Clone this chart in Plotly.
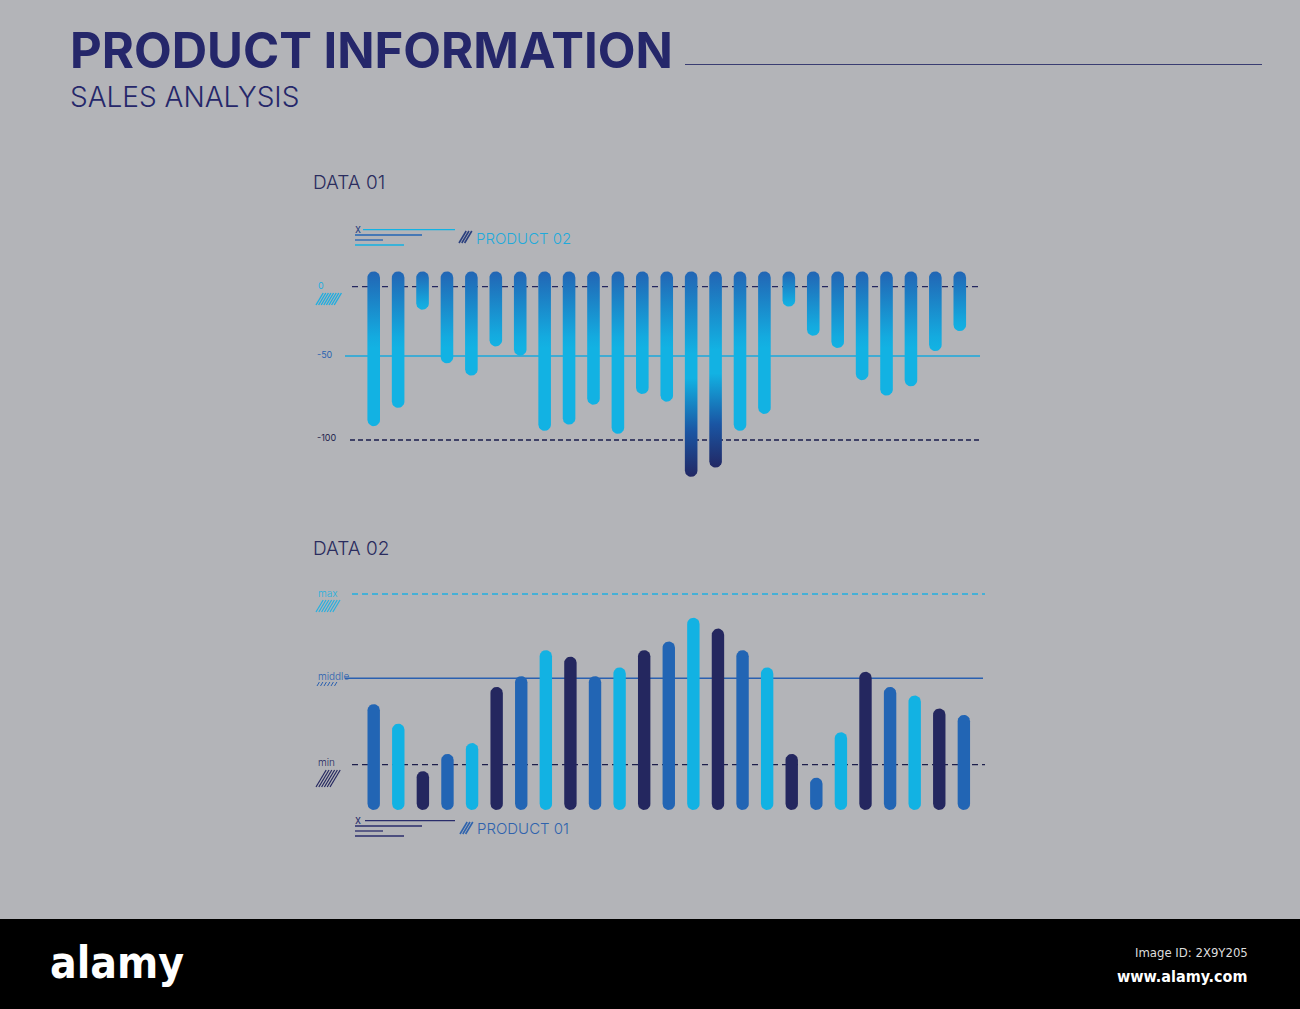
import numpy as np
import plotly.graph_objects as go

# ---------------------------------------------------------------------------
# Product information / sales analysis - two rounded "pill" bar charts
# ---------------------------------------------------------------------------

# DATA 01 - product 02 (negative values, bars hang from the top)
days = list(range(1, 26))
product02 = [-91, -79, -15, -50, -58, -39, -45, -94, -90, -77, -96, -70, -75,
             -124, -118, -94, -83, -13, -32, -40, -61, -71, -65, -42, -29]
product02_top = 10

# DATA 01 scale labels
levels02 = [0, -50, -100]

# DATA 02 - product 01 (positive values, bars stand on the base)
product01 = [49, 40, 18, 26, 31, 57, 62, 74, 71, 62, 66, 74, 78,
             89, 84, 74, 66, 26, 15, 36, 64, 57, 53, 47, 44]

# DATA 02 reference levels
levels01 = {"max": 100, "middle": 61, "min": 21}

BG = "#b3b4b8"
NAVY = "#24275f"
BLUE = "#2265b4"
CYAN = "#12b2e3"
FONT = "Inter"

W, H = 1300, 1009


def px(x):
    return x / W


def py(y):
    return 1 - y / H


def capsule(xc, lo, hi, hw, ry, n=14):
    # rounded bar outline in data units
    xs, ys = [], []
    for a in np.linspace(np.pi, 2 * np.pi, n):
        xs.append(xc + hw * np.cos(a))
        ys.append(lo + ry + ry * np.sin(a))
    for a in np.linspace(0, np.pi, n):
        xs.append(xc + hw * np.cos(a))
        ys.append(hi - ry + ry * np.sin(a))
    xs.append(xs[0])
    ys.append(ys[0])
    return xs, ys


fig = go.Figure()

# ---- chart 1 geometry (pixel calibration)
x1_first, x1_step = 373.7, 24.42
y1_zero, y1_unit = 286.7, 1.533
dom1_x = (300, 1000)
dom1_y = (250, 500)
hw1 = 6.3 / x1_step
ry1 = 6.3 / y1_unit

for i, v in enumerate(product02):
    xs, ys = capsule(i, v, product02_top, hw1, ry1)
    if v < -110:
        grad = dict(type="vertical", start=v, stop=product02_top,
                    colorscale=[[0, "#222864"], [0.22, "#1a55a3"],
                                [0.48, CYAN], [0.6, CYAN], [1, BLUE]])
    else:
        grad = dict(type="vertical", start=max(v, -40), stop=product02_top,
                    colorscale=[[0, CYAN], [0.15, "#14aadf"], [1, BLUE]])
    fig.add_trace(go.Scatter(x=xs, y=ys, fill="toself", mode="lines",
                             line=dict(width=0), fillgradient=grad,
                             hoverinfo="skip", xaxis="x", yaxis="y"))

# ---- chart 2 geometry
x2_first, x2_step = 373.7, 24.59
y2_base, y2_unit = 810, 2.16
dom2_x = (300, 1000)
dom2_y = (560, 850)
hw2 = 6.2 / x2_step
ry2 = 6.2 / y2_unit
cycle = [BLUE, CYAN, NAVY]

for i, v in enumerate(product01):
    xs, ys = capsule(i, 0, v, hw2, ry2)
    fig.add_trace(go.Scatter(x=xs, y=ys, fill="toself", mode="lines",
                             line=dict(width=0), fillcolor=cycle[i % 3],
                             hoverinfo="skip", xaxis="x2", yaxis="y2"))

fig.update_layout(
    width=W, height=H,
    margin=dict(l=0, r=0, t=0, b=0),
    paper_bgcolor=BG, plot_bgcolor="rgba(0,0,0,0)",
    showlegend=False,
    xaxis=dict(domain=[px(dom1_x[0]), px(dom1_x[1])],
               range=[(dom1_x[0] - x1_first) / x1_step, (dom1_x[1] - x1_first) / x1_step],
               visible=False, fixedrange=True),
    yaxis=dict(domain=[py(dom1_y[1]), py(dom1_y[0])],
               range=[(y1_zero - dom1_y[1]) / y1_unit, (y1_zero - dom1_y[0]) / y1_unit],
               visible=False, fixedrange=True),
    xaxis2=dict(domain=[px(dom2_x[0]), px(dom2_x[1])], anchor="y2",
                range=[(dom2_x[0] - x2_first) / x2_step, (dom2_x[1] - x2_first) / x2_step],
                visible=False, fixedrange=True),
    yaxis2=dict(domain=[py(dom2_y[1]), py(dom2_y[0])], anchor="x2",
                range=[(y2_base - dom2_y[1]) / y2_unit, (y2_base - dom2_y[0]) / y2_unit],
                visible=False, fixedrange=True),
)

shapes = []

# reference lines chart 1 (the -50 rule sits a little high in the original artwork)
shapes.append(dict(type="line", xref="paper", yref="y", layer="below",
                   x0=px(352), x1=px(980), y0=levels02[0], y1=levels02[0],
                   line=dict(color=NAVY, dash="6px,4px", width=1.2)))
shapes.append(dict(type="line", xref="paper", yref="paper", layer="below",
                   x0=px(345), x1=px(980), y0=py(356), y1=py(356),
                   line=dict(color="#1aa8dc", width=1.3)))
shapes.append(dict(type="line", xref="paper", yref="y", layer="below",
                   x0=px(350), x1=px(980), y0=levels02[2], y1=levels02[2],
                   line=dict(color="#1b1d4c", dash="5px,3px", width=1.4)))

# reference lines chart 2
ref2_style = {"max": ("#22aedf", "6px,4px", 1.3, 352, 985),
              "middle": ("#2a60b0", "solid", 1.4, 345, 983),
              "min": ("#1d1f4c", "6px,4px", 1.3, 352, 985)}
for k, lv in levels01.items():
    c, d, w, x0, x1 = ref2_style[k]
    shapes.append(dict(type="line", xref="paper", yref="y2", layer="below",
                       x0=px(x0), x1=px(x1), y0=lv, y1=lv,
                       line=dict(color=c, dash=d, width=w)))


def hline(x0, x1, y, color, width=1):
    shapes.append(dict(type="line", xref="paper", yref="paper",
                       x0=px(x0), x1=px(x1), y0=py(y), y1=py(y),
                       line=dict(color=color, width=width)))


def hatch(x0, y0, x1, y1, color, step=3.2, width=1):
    h = y1 - y0
    x = x0
    while x + h * 0.6 <= x1 + 0.1:
        shapes.append(dict(type="line", xref="paper", yref="paper",
                           x0=px(x), y0=py(y1), x1=px(x + h * 0.6), y1=py(y0),
                           line=dict(color=color, width=width)))
        x += step


# title rule
hline(685, 1262, 64.5, "#3a3d72", 1)

# legend decoration chart 1
hline(363, 455, 229.7, CYAN, 1.3)
hline(355, 422, 235, BLUE, 1.3)
hline(355, 383, 240, BLUE, 1.3)
hline(355, 404, 245, CYAN, 1.3)
hatch(459, 231, 473, 243, "#2a3f7e", step=2.8, width=1.6)

# legend decoration chart 2
hline(365, 455, 820.7, "#2a2d6b", 1.3)
hline(355, 422, 826, "#2a2d6b", 1.3)
hline(355, 383, 831, "#2a2d6b", 1.3)
hline(355, 404, 836, "#2a2d6b", 1.3)
hatch(460, 822, 474, 834, "#2f63ad", step=2.8, width=1.6)

# hatch boxes beside the level labels
hatch(316, 293, 342, 305, "#1eaee0", step=2.6, width=1.4)
hatch(316, 600, 342, 612, "#27b0df", step=2.8, width=1.2)
hatch(317, 682, 340, 686, "#2a60b0", step=3.5, width=1)
hatch(316, 770, 342, 787, "#25285f", step=2.8, width=1.2)

# stock photo footer band
shapes.append(dict(type="rect", xref="paper", yref="paper", layer="above",
                   x0=0, x1=1, y0=0, y1=py(919), fillcolor="black", line=dict(width=0)))

fig.update_layout(shapes=shapes)


def label(x, y, text, size, color, weight="normal", anchor="left", family=FONT):
    fig.add_annotation(x=px(x), y=py(y), xref="paper", yref="paper", text=text,
                       showarrow=False, xanchor=anchor, yanchor="middle",
                       font=dict(family=family, size=size, color=color, weight=weight))


label(68, 51, "PRODUCT INFORMATION", 49, "#25276a", weight="bold")
label(68, 97, "SALES ANALYSIS", 28, "#25276a", weight=300)
label(311, 182, "DATA 01", 19, "#2a2c5e", weight=300)
label(311, 548, "DATA 02", 19, "#2a2c5e", weight=300)
label(474, 238, "PRODUCT 02", 15, "#1faadb", weight=300)
label(475, 828, "PRODUCT 01", 15, "#2f63ad", weight=300)
label(353, 229, "x", 11, "#2a3f7e")
label(353, 820, "x", 11, "#2a2d6b")

# level labels
label(316, 285, "0", 9, "#1eaee0")
label(315, 355, "-50", 9, "#2a64b0")
label(315, 437, "-100", 9, "#1d1f4c")
label(316, 593, "max", 10, "#27b0df", weight=300)
label(316, 676, "middle", 10, "#2a60b0", weight=300)
label(316, 762, "min", 10, "#25285f", weight=300)

# footer text
COND = "DejaVu Sans Condensed, DejaVu Sans"
label(48, 962, "alamy", 44, "white", weight="bold", family=COND)
label(1250, 952, "Image ID: 2X9Y205", 13, "#dddddd", anchor="right", family=COND)
label(1250, 976, "www.alamy.com", 16, "white", weight="bold", anchor="right", family=COND)

fig.write_html("out.html", config={"displayModeBar": False},
               post_script="document.body.style.margin='0';document.body.style.overflow='hidden';")
